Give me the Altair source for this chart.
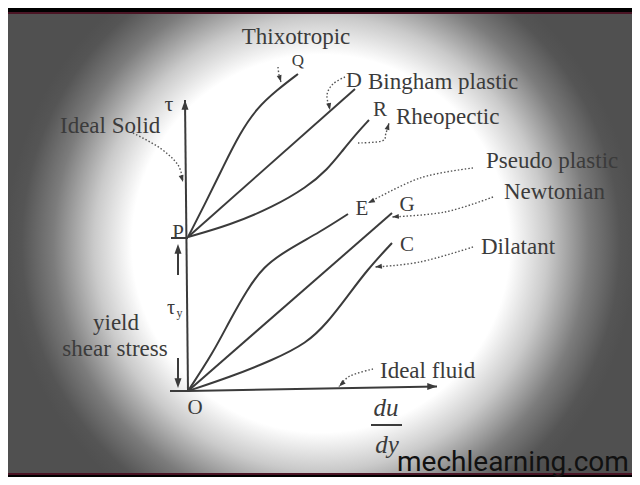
import math
import altair as alt
import pandas as pd

# ---------------- data (units: du/dy and tau, arbitrary) ----------
thixo_x = [0.0, 0.95, 1.75, 2.6, 3.45, 4.45, 5.5]
thixo_y = [7.7, 9.55, 11.2, 12.9, 14.15, 15.05, 15.85]
bingham_x = [0.0, 8.35]
bingham_y = [7.7, 15.1]
rheo_x = [0.0, 2.1, 4.25, 5.95, 6.95, 7.75, 8.45, 9.05]
rheo_y = [7.7, 8.3, 9.2, 10.2, 11.05, 12.05, 12.9, 13.55]
pseudo_x = [0.0, 1.25, 2.1, 2.95, 3.75, 4.95, 6.6, 8.0]
pseudo_y = [0.0, 1.9, 3.55, 5.05, 6.2, 7.05, 7.95, 8.85]
newton_x = [0.0, 10.2]
newton_y = [0.0, 8.9]
dilat_x = [0.0, 2.1, 4.25, 5.95, 6.95, 7.95, 8.95, 10.2]
dilat_y = [0.0, 0.7, 1.55, 2.4, 3.4, 4.7, 6.05, 7.4]

yield_stress = 7.7
y_axis_top = 14.55
x_axis_end = 12.45

# dotted pointer paths (start -> arrow tip)
ptr_thixo = ([4.5, 4.55, 4.65], [16.2, 15.8, 15.45])
ptr_bingham = ([7.85, 7.25, 6.95, 7.1], [15.7, 15.35, 14.8, 14.05])
ptr_rheo = ([8.5, 9.7, 9.9, 10.05], [12.4, 12.5, 12.9, 13.4])
ptr_solid = ([-2.75, -1.4, -0.5, -0.25], [12.9, 12.15, 11.3, 10.45])
ptr_pseudo = ([14.25, 11.6, 9.0], [11.15, 10.65, 9.4])
ptr_newton = ([15.25, 12.85, 10.2], [9.7, 8.95, 8.7])
ptr_dilat = ([14.25, 11.6, 9.35], [7.2, 6.45, 6.2])
ptr_fluid = ([9.25, 8.1, 7.55], [1.1, 0.75, 0.22])

center_labels = ["Thixotropic", "Q", "D", "R", "E", "G", "C", "τ", "P", "O", "yield", "shear stress"]
center_x = [5.4, 5.5, 8.3, 9.6, 8.7, 10.95, 10.95, -0.95, -0.5, 0.35, -3.6, -3.65]
center_y = [17.7, 16.5, 15.55, 14.05, 9.1, 9.3, 7.3, 14.35, 7.9, -0.85, 3.4, 2.1]
center_size = [23, 17, 22, 21, 21, 21, 21, 22, 21, 21, 23, 23]

left_labels = ["Bingham plastic", "Rheopectic", "Pseudo plastic", "Newtonian", "Dilatant",
               "Ideal Solid", "Ideal fluid"]
left_x = [9.0, 10.4, 14.9, 15.8, 14.65, -6.4, 9.6]
left_y = [15.45, 13.7, 11.5, 9.95, 7.2, 13.25, 1.0]

# ---------------- build tables ----------------
rows = []
for name, xs, ys in [("Thixotropic", thixo_x, thixo_y), ("Bingham", bingham_x, bingham_y),
                     ("Rheopectic", rheo_x, rheo_y), ("Pseudo", pseudo_x, pseudo_y),
                     ("Newtonian", newton_x, newton_y), ("Dilatant", dilat_x, dilat_y)]:
    for i, (a, b) in enumerate(zip(xs, ys)):
        rows.append({"s": name, "x": a, "y": b, "o": i})
curves = pd.DataFrame(rows)

rules = pd.DataFrame([
    {"x": 0.0, "y": 0.0, "x2": -0.15, "y2": y_axis_top},            # tau axis
    {"x": 0.0, "y": 0.0, "x2": x_axis_end, "y2": 0.22},              # du/dy axis
    {"x": -0.85, "y": yield_stress - 0.05, "x2": 0.0, "y2": yield_stress - 0.05},  # tick at P
    {"x": -0.9, "y": 0.0, "x2": 0.0, "y2": 0.0},                     # tick at O
    {"x": -0.5, "y": 5.8, "x2": -0.5, "y2": 7.1},                    # tau_y up arrow shaft
    {"x": -0.5, "y": 1.65, "x2": -0.5, "y2": 0.35},                  # tau_y down arrow shaft
    {"x": 9.15, "y": -1.7, "x2": 10.7, "y2": -1.7},                  # fraction bar
])

prow = []
heads = []
for k, (xs, ys) in enumerate([ptr_thixo, ptr_bingham, ptr_rheo, ptr_solid,
                              ptr_pseudo, ptr_newton, ptr_dilat, ptr_fluid]):
    for i, (a, b) in enumerate(zip(xs, ys)):
        prow.append({"s": k, "x": a, "y": b, "o": i})
    dx = xs[-1] - xs[-2]
    dys = -(ys[-1] - ys[-2])
    ang = math.degrees(math.atan2(dx, -dys)) % 360
    heads.append({"x": xs[-1], "y": ys[-1], "a": ang})
pointers = pd.DataFrame(prow)

heads_big = pd.DataFrame([
    {"x": -0.15, "y": y_axis_top, "a": 0.0},
    {"x": x_axis_end, "y": 0.22, "a": 90.0},
    {"x": -0.5, "y": yield_stress - 0.35, "a": 0.0},
    {"x": -0.5, "y": 0.15, "a": 180.0},
])
heads_small = pd.DataFrame(heads)

clabels = pd.DataFrame({"t": center_labels, "x": center_x, "y": center_y, "sz": center_size})
llabels = pd.DataFrame({"t": left_labels, "x": left_x, "y": left_y})
frac = pd.DataFrame({"t": ["du", "dy"], "x": [9.9, 9.95], "y": [-0.85, -2.7]})
tauy = pd.DataFrame({"t": ["τ", "y"], "x": [-0.85, -0.42], "y": [4.15, 3.9], "sz": [20, 12]})
mark = pd.DataFrame({"t": ["mechlearning.com"], "x": [10.45], "y": [-3.98]})

# ---------------- chart ----------------
W, H = 624, 469
xs_ = alt.Scale(domain=[-9.0, 22.2], nice=False, zero=False)
ys_ = alt.Scale(domain=[-4.3, 19.15], nice=False, zero=False)
INK = "#3b3b3b"
SERIF = "Liberation Serif"
ARROW = "M0,0L-0.36,1L0.36,1Z"


def X(f="x"):
    return alt.X(f"{f}:Q", scale=xs_, axis=None)


def Y(f="y"):
    return alt.Y(f"{f}:Q", scale=ys_, axis=None)


frame = alt.Chart(pd.DataFrame({"d": [0]})).mark_rect(
    fill={
        "gradient": "radial",
        "x1": 0.5, "y1": 0.5, "r1": 0,
        "x2": 0.5, "y2": 0.5, "r2": 0.5,
        "stops": [
            {"offset": 0, "color": "#ffffff"},
            {"offset": 0.6, "color": "#ffffff"},
            {"offset": 0.72, "color": "#cacaca"},
            {"offset": 0.85, "color": "#7c7c7c"},
            {"offset": 0.95, "color": "#555555"},
            {"offset": 1, "color": "#505050"},
        ],
    },
    stroke="#4a1424", strokeWidth=2,
).encode(x=alt.value(-2), x2=alt.value(W + 4), y=alt.value(5), y2=alt.value(466))

axes = alt.Chart(rules).mark_rule(color=INK, strokeWidth=2).encode(
    x=X(), y=Y(), x2="x2:Q", y2="y2:Q")

lines = alt.Chart(curves).mark_line(color=INK, strokeWidth=2, interpolate="basis").encode(
    x=X(), y=Y(), detail="s:N", order="o:Q")

dots = alt.Chart(pointers).mark_line(color="#555555", strokeWidth=1.4, strokeDash=[1.5, 2],
                                     interpolate="cardinal").encode(
    x=X(), y=Y(), detail="s:N", order="o:Q")

hb = alt.Chart(heads_big).mark_point(shape=ARROW, filled=True, color=INK, opacity=1,
                                     size=380, strokeWidth=0).encode(
    x=X(), y=Y(), angle=alt.Angle("a:Q", scale=None))
hs = alt.Chart(heads_small).mark_point(shape=ARROW, filled=True, color=INK, opacity=1,
                                       size=190, strokeWidth=0).encode(
    x=X(), y=Y(), angle=alt.Angle("a:Q", scale=None))

t_center = alt.Chart(clabels).mark_text(font=SERIF, color=INK, align="center",
                                        baseline="middle").encode(
    x=X(), y=Y(), text="t:N", size=alt.Size("sz:Q", scale=None))
t_left = alt.Chart(llabels).mark_text(font=SERIF, color=INK, align="left", baseline="middle",
                                      fontSize=23).encode(x=X(), y=Y(), text="t:N")
t_frac = alt.Chart(frac).mark_text(font=SERIF, color=INK, align="center", baseline="middle",
                                   fontSize=25, fontStyle="italic").encode(
    x=X(), y=Y(), text="t:N")
t_tauy = alt.Chart(tauy).mark_text(font=SERIF, color=INK, align="center",
                                   baseline="middle").encode(
    x=X(), y=Y(), text="t:N", size=alt.Size("sz:Q", scale=None))
t_mark = alt.Chart(mark).mark_text(font="Roboto", color="#111111", align="left",
                                   baseline="alphabetic", fontSize=28).encode(
    x=X(), y=Y(), text="t:N")

chart = alt.layer(frame, axes, lines, dots, hb, hs, t_center, t_left, t_frac, t_tauy,
                  t_mark).properties(
    width=W, height=H, autosize=alt.AutoSizeParams(type="none"), padding=0,
    background="#000000",
).configure_view(stroke=None)

chart.save("out.html", embed_options={"renderer": "svg", "actions": False})
